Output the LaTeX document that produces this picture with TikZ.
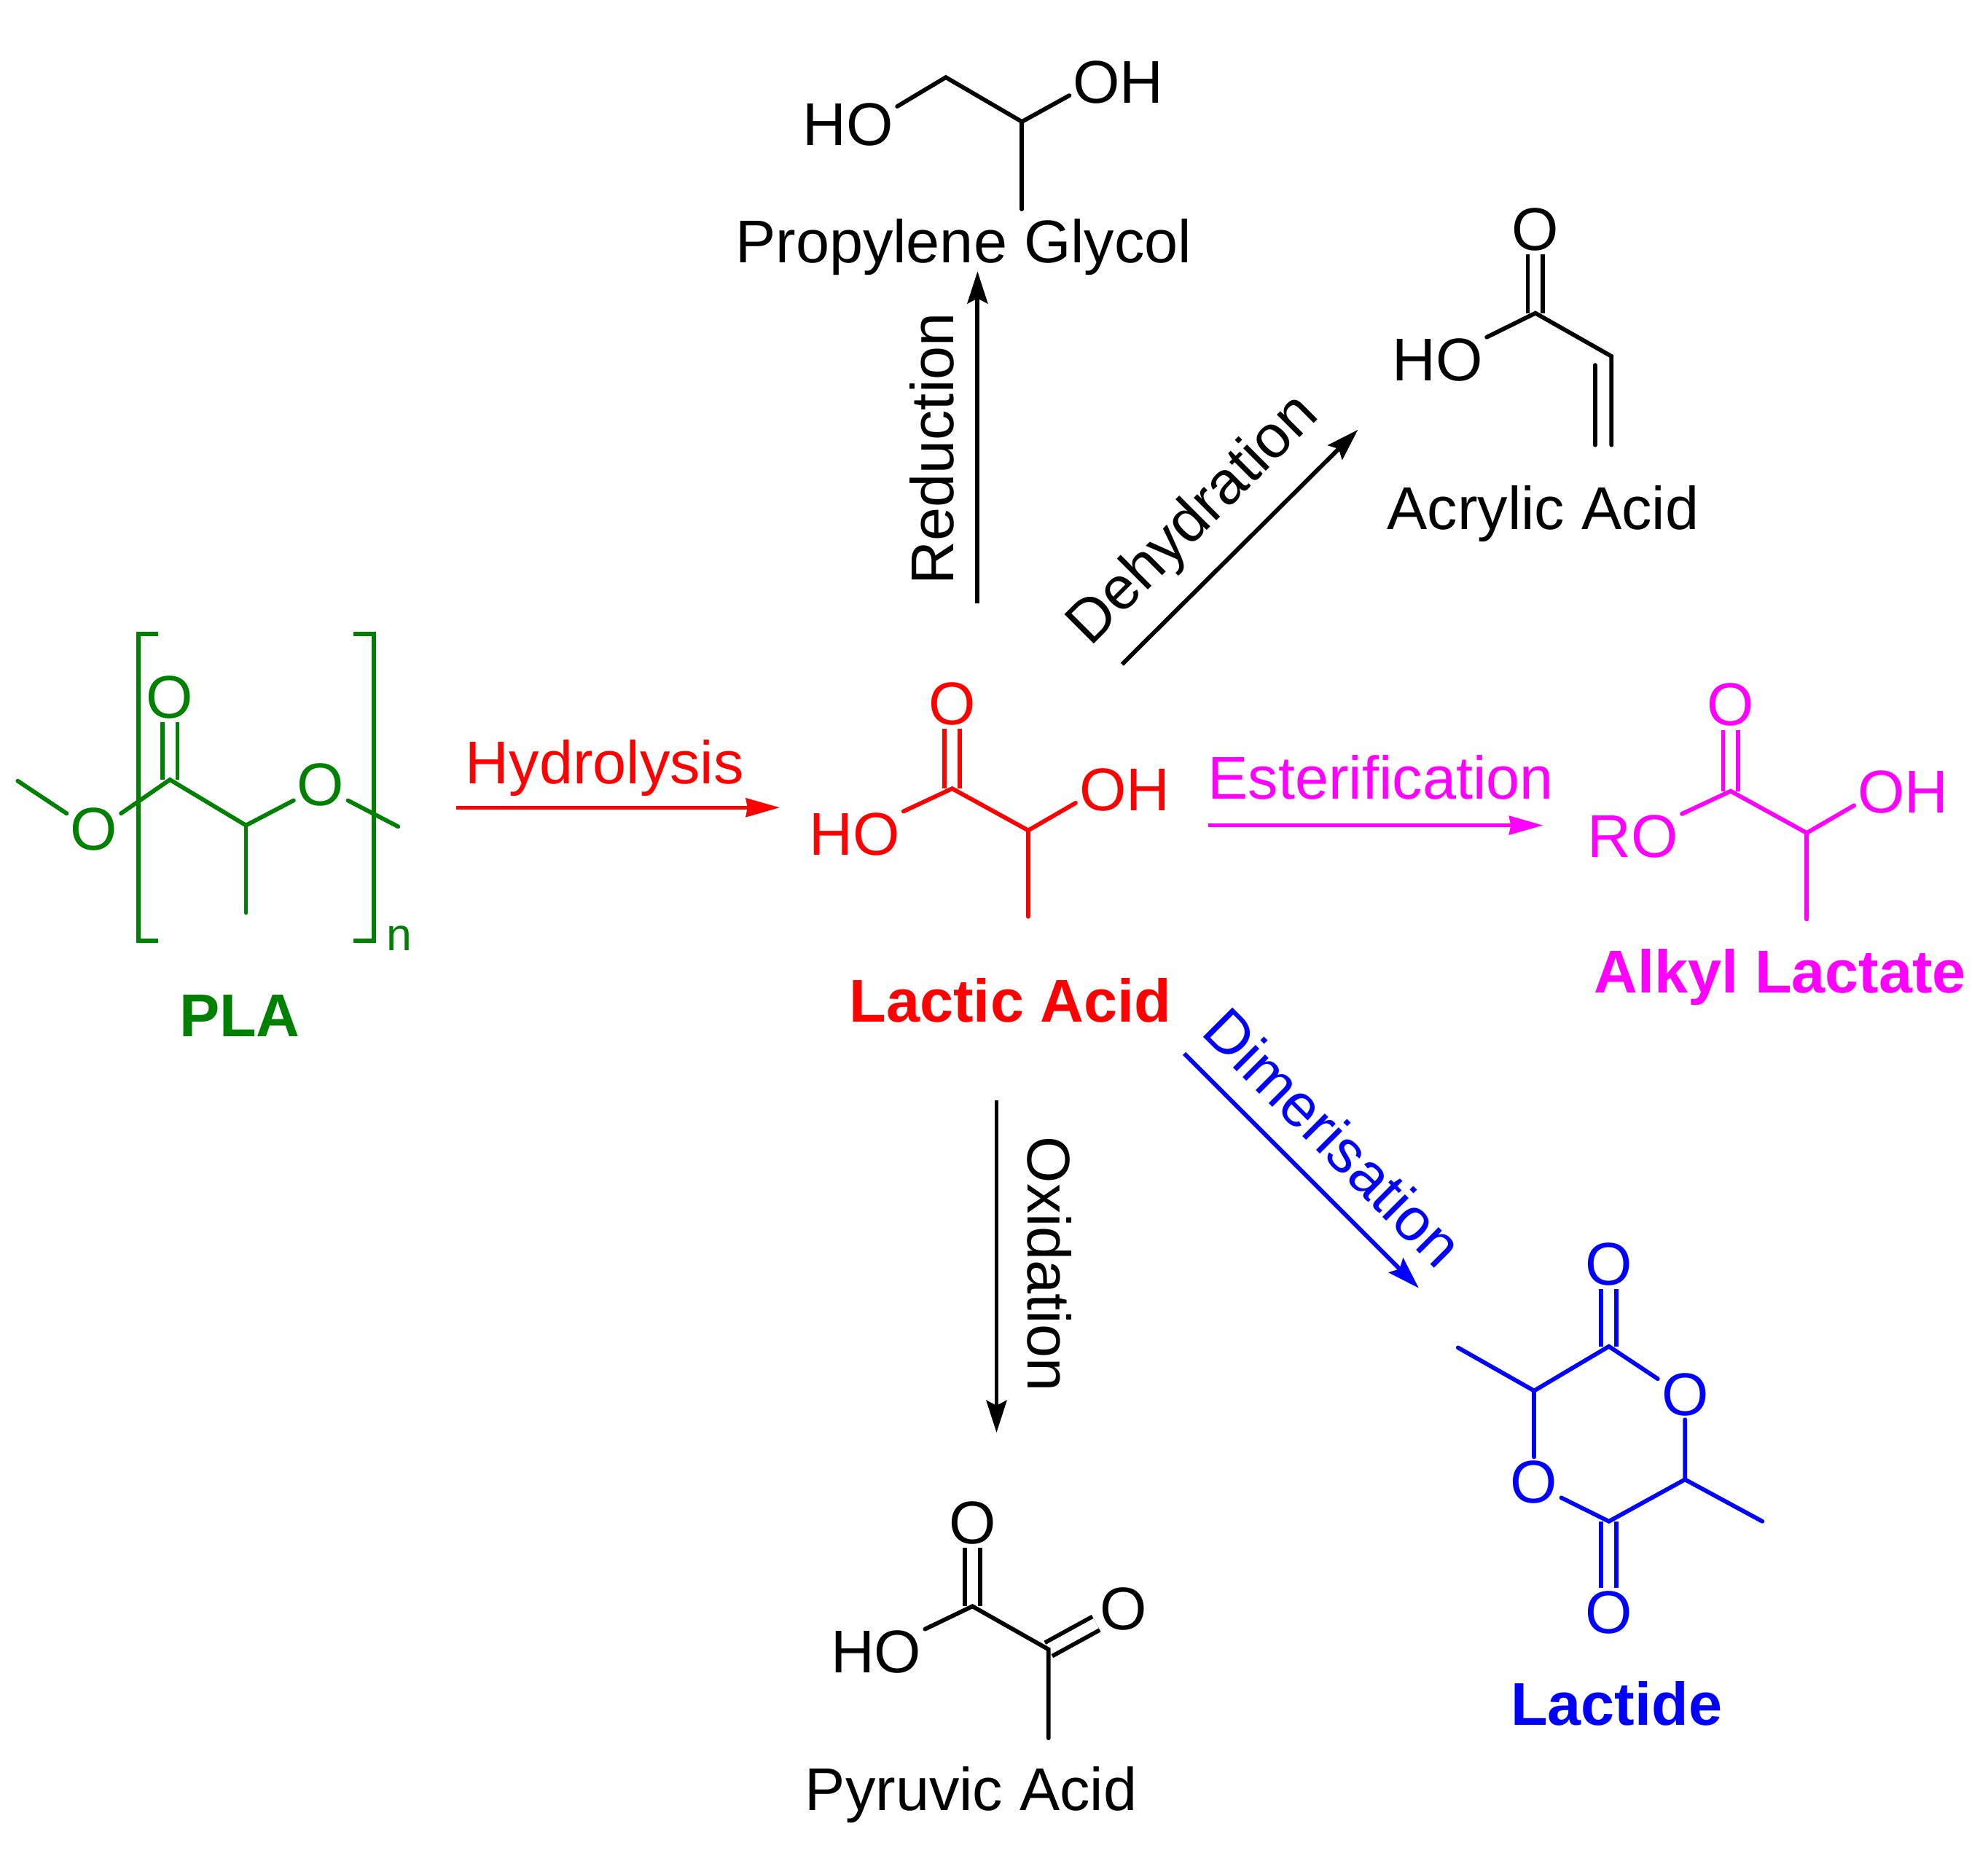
\documentclass[tikz,border=0pt]{standalone}
\usepackage{fontspec}
\setmainfont{Liberation Sans}
\usetikzlibrary{arrows.meta}

\tikzset{
  atom/.style={inner sep=2pt,font=\fontsize{35.7}{40}\selectfont},
  compound/.style={inner sep=0pt,font=\fontsize{35.7}{40}\selectfont},
  boldcompound/.style={inner sep=0pt,font=\fontsize{35.7}{40}\selectfont\bfseries},
  rxnlabel/.style={inner sep=0pt,font=\fontsize{35.7}{40}\selectfont},
  bond/.style={line width=2.5pt,line cap=round},
  dbond/.style={line width=2.5pt,double=white,double distance=6.5pt},
  rxn/.style={line width=2.5pt,-{Stealth[length=19pt,width=12pt,inset=3pt]}},
  rxnthin/.style={line width=2.2pt,-{Stealth[length=20pt,width=11pt,inset=1pt]}}
}

\begin{document}
\begin{tikzpicture}[x=0.75pt,y=0.75pt,yscale=-1,xscale=1]
\useasboundingbox (0,0) rectangle (1568,1470);

% PLA
\begin{scope}[color={rgb, 255:red, 0; green, 128; blue, 0 }]
\coordinate (plaMe) at (14,616);
\coordinate (plaC1) at (134,615);
\coordinate (plaC2) at (194,651);
\coordinate (plaMe2) at (194,720);
\coordinate (plaEnd) at (314,652);
\node [atom] (plaO1) at (74,654) {O};
\node [atom] (plaO2) at (134,550) {O};
\node [atom] (plaO3) at (253,619) {O};
\node [atom,font=\fontsize{27}{30}\selectfont] (plaN) at (315,740) {n};
\node [boldcompound] (plaName) at (189,801) {PLA};
\draw [dbond] (plaC1) -- (plaO2.south);
\draw [bond] (plaMe) -- (plaO1.150);
\draw [bond] (plaO1.30) -- (plaC1) -- (plaC2) -- (plaO3.210);
\draw [bond] (plaC2) -- (plaMe2);
\draw [bond] (plaO3.330) -- (plaEnd);
% brackets
\draw [line width=2.6pt] (125,500) -- (109,500) -- (109,742) -- (125,742);
\draw [line width=2.6pt] (279,500) -- (295,500) -- (295,742) -- (279,742);
\end{scope}

% Lactic acid
\begin{scope}[color={rgb, 255:red, 255; green, 0; blue, 0 }]
\coordinate (laC1) at (751,622);
\coordinate (laC2) at (811,655);
\coordinate (laMe) at (811,723);
\node [atom] (laO) at (751,555) {O};
\node [atom] (laHO) at (674,658) {HO};
\node [atom] (laOH) at (887,623) {OH};
\node [boldcompound] (laName) at (797,789) {Lactic Acid};
\draw [dbond] (laC1) -- (laO.south);
\draw [bond] (laHO.25) -- (laC1) -- (laC2) -- (laOH.195);
\draw [bond] (laC2) -- (laMe);
\end{scope}

% Alkyl lactate
\begin{scope}[color={rgb, 255:red, 255; green, 0; blue, 255 }]
\coordinate (alC1) at (1365,624);
\coordinate (alC2) at (1425,657);
\coordinate (alMe) at (1425,725);
\node [atom] (alO) at (1365,556) {O};
\node [atom] (alRO) at (1288,660) {RO};
\node [atom] (alOH) at (1501,625) {OH};
\node [boldcompound] (alName) at (1404,771) {Alkyl Lactate};
\draw [dbond] (alC1) -- (alO.south);
\draw [bond] (alRO.25) -- (alC1) -- (alC2) -- (alOH.195);
\draw [bond] (alC2) -- (alMe);
\end{scope}

% Propylene glycol
\coordinate (pgC1) at (746,61);
\coordinate (pgC2) at (806,96);
\coordinate (pgMe) at (806,165);
\node [atom] (pgHO) at (669,98) {HO};
\node [atom] (pgOH) at (882,65) {OH};
\node [compound] (pgName) at (760,195) {Propylene Glycol};
\draw [bond] (pgHO.20) -- (pgC1) -- (pgC2) -- (pgOH.195);
\draw [bond] (pgC2) -- (pgMe);

% Acrylic acid
\coordinate (aaC1) at (1211,247);
\coordinate (aaC2) at (1271,281);
\coordinate (aaC3) at (1271,351);
\coordinate (aaIn1) at (1258,288);
\coordinate (aaIn2) at (1258,351);
\node [atom] (aaO) at (1211,181) {O};
\node [atom] (aaHO) at (1134,284) {HO};
\node [compound] (aaName) at (1217,405) {Acrylic Acid};
\draw [dbond] (aaC1) -- (aaO.south);
\draw [bond] (aaHO.25) -- (aaC1) -- (aaC2) -- (aaC3);
\draw [bond] (aaIn1) -- (aaIn2);

% Pyruvic acid
\coordinate (paC1) at (767,1267);
\coordinate (paC2) at (827,1301);
\coordinate (paMe) at (827,1371);
\node [atom] (paO1) at (767,1201) {O};
\node [atom] (paO2) at (886,1269) {O};
\node [atom] (paHO) at (691,1303) {HO};
\node [compound] (paName) at (766,1416) {Pyruvic Acid};
\draw [dbond] (paC1) -- (paO1.south);
\draw [dbond] (paC2) -- (paO2.208);
\draw [bond] (paHO.25) -- (paC1) -- (paC2) -- (paMe);

% Lactide
\begin{scope}[color={rgb, 255:red, 0; green, 0; blue, 255 }]
\coordinate (ldC1) at (1269,1062);
\coordinate (ldC2) at (1210,1097);
\coordinate (ldC3) at (1269,1200);
\coordinate (ldC4) at (1329,1167);
\coordinate (ldMe1) at (1150,1063);
\coordinate (ldMe2) at (1390,1200);
\node [atom] (ldO1) at (1269,997) {O};
\node [atom] (ldO2) at (1329,1100) {O};
\node [atom] (ldO3) at (1210,1169) {O};
\node [atom] (ldO4) at (1269,1272) {O};
\node [boldcompound] (ldName) at (1275,1344) {Lactide};
\draw [dbond] (ldC1) -- (ldO1.south);
\draw [dbond] (ldC3) -- (ldO4.north);
\draw [bond] (ldMe1) -- (ldC2) -- (ldC1) -- (ldO2.150);
\draw [bond] (ldC2) -- (ldO3.north);
\draw [bond] (ldO3.330) -- (ldC3) -- (ldC4) -- (ldO2.south);
\draw [bond] (ldC4) -- (ldMe2);
\end{scope}

% Reaction arrows
\coordinate (hydS) at (360,637);
\coordinate (hydE) at (615,637);
\coordinate (estS) at (953,651);
\coordinate (estE) at (1217,651);
\coordinate (redS) at (771,476);
\coordinate (redE) at (771,214);
\coordinate (dehS) at (885,524);
\coordinate (dehE) at (1071,339);
\coordinate (oxiS) at (786,868);
\coordinate (oxiE) at (786,1130);
\coordinate (dimS) at (934,831);
\coordinate (dimE) at (1119,1016);
\draw [rxnthin,color={rgb, 255:red, 255; green, 0; blue, 0 }] (hydS) -- (hydE);
\draw [rxnthin,color={rgb, 255:red, 255; green, 0; blue, 255 }] (estS) -- (estE);
\draw [rxn] (redS) -- (redE);
\draw [rxn] (dehS) -- (dehE);
\draw [rxn] (oxiS) -- (oxiE);
\draw [rxn,color={rgb, 255:red, 0; green, 0; blue, 255 }] (dimS) -- (dimE);

% Reaction labels
\node [rxnlabel,color={rgb, 255:red, 255; green, 0; blue, 0 }] (hydText) at (477,606) {Hydrolysis};
\node [rxnlabel,color={rgb, 255:red, 255; green, 0; blue, 255 }] (estText) at (1089,613) {Esterification};
\node [rxnlabel,rotate=90] (redText) at (735,354) {Reduction};
\node [rxnlabel,rotate=45] (dehText) at (942,411) {Dehydration};
\node [rxnlabel,rotate=270] (oxiText) at (828,997) {Oxidation};
\node [rxnlabel,rotate=-45,color={rgb, 255:red, 0; green, 0; blue, 255 }] (dimText) at (1052,897) {Dimerisation};

\end{tikzpicture}
\end{document}
